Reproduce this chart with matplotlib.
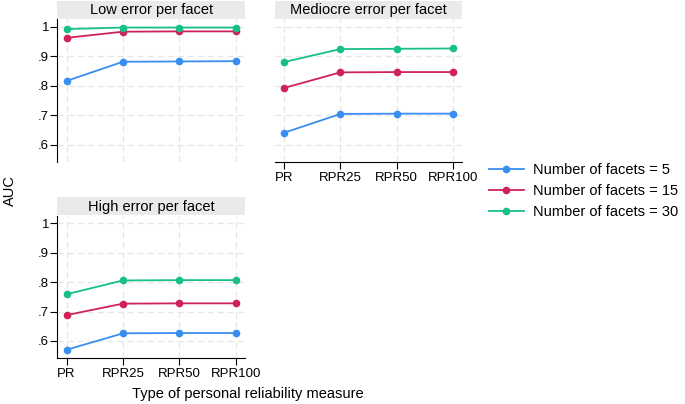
import matplotlib
matplotlib.use("Agg")
import matplotlib.pyplot as plt
import numpy as np

plt.rcParams['font.family'] = ['Liberation Sans', 'DejaVu Sans']

# Данные
measures = ["PR", "RPR25", "RPR50", "RPR100"]
facet_labels = ["Number of facets = 5", "Number of facets = 15", "Number of facets = 30"]
colors = ["#3a8ef0", "#cf2358", "#18c087"]

low_5 = [0.817, 0.882, 0.883, 0.884]
low_15 = [0.963, 0.984, 0.985, 0.985]
low_30 = [0.993, 0.998, 0.998, 0.998]

med_5 = [0.641, 0.705, 0.706, 0.706]
med_15 = [0.793, 0.846, 0.847, 0.847]
med_30 = [0.881, 0.925, 0.926, 0.927]

high_5 = [0.570, 0.626, 0.627, 0.627]
high_15 = [0.688, 0.727, 0.728, 0.728]
high_30 = [0.759, 0.806, 0.807, 0.807]

panels = [
    ("Low error per facet", [low_5, low_15, low_30]),
    ("Mediocre error per facet", [med_5, med_15, med_30]),
    ("High error per facet", [high_5, high_15, high_30]),
]

W, H = 685, 404
fig = plt.figure(figsize=(W / 100, H / 100), dpi=100)

# положения панелей в пикселях: (left, top, right, bottom)
boxes = [(57.5, 19, 245, 162), (275, 19, 462, 162), (57.5, 215.5, 245, 358)]
show_y = [True, False, True]
show_x = [False, True, True]

yticks = [0.6, 0.7, 0.8, 0.9, 1.0]
ytick_labels = [".6", ".7", ".8", ".9", "1"]
x = np.arange(len(measures))

handles = []
for k, (title, series) in enumerate(panels):
    l, t, r, b = boxes[k]
    ax = fig.add_axes([l / W, 1 - b / H, (r - l) / W, (b - t) / H])
    ax.set_xlim(-0.16, 3.16)
    ax.set_ylim(0.542, 1.027)
    ax.set_yticks(yticks)
    ax.set_xticks(x)
    ax.grid(True, color="#e6e6e6", linestyle=(0, (5, 3)), linewidth=0.9)
    ax.set_axisbelow(True)
    for s in ["top", "right"]:
        ax.spines[s].set_visible(False)
    ax.spines["left"].set_visible(show_y[k])
    ax.spines["bottom"].set_visible(show_x[k])
    for s in ["left", "bottom"]:
        ax.spines[s].set_linewidth(0.8)
    if show_y[k]:
        ax.set_yticklabels(ytick_labels, fontsize=9.5)
        ax.tick_params(axis="y", length=5, width=0.8, pad=1)
    else:
        ax.tick_params(axis="y", length=0, labelleft=False)
    if show_x[k]:
        ax.set_xticklabels(measures, fontsize=9.5)
        ax.tick_params(axis="x", length=5, width=0.8, pad=2)
    else:
        ax.tick_params(axis="x", length=0, labelbottom=False)

    for vals, c, lab in zip(series, colors, facet_labels):
        h, = ax.plot(x, vals, color=c, lw=1.3, marker="o", markersize=4.5, label=lab)
        if k == 0:
            handles.append(h)

    # заголовок панели (серая полоса)
    st = fig.add_axes([l / W, 1 - (t - 0.5) / H, (r - l) / W, 18 / H])
    st.set_facecolor("#eaeaea")
    st.set_xticks([])
    st.set_yticks([])
    for s in st.spines.values():
        s.set_visible(False)
    st.text(0.5, 0.45, title, ha="center", va="center", fontsize=10.5,
            transform=st.transAxes)

fig.text(10 / W, 1 - 191 / H, "AUC", rotation=90, ha="center", va="center", fontsize=10.5)
fig.text(248 / W, 1 - 394 / H, "Type of personal reliability measure",
         ha="center", va="center", fontsize=10.5)

fig.legend(handles=handles, loc="center left", bbox_to_anchor=(483 / W, 1 - 191 / H),
           frameon=False, fontsize=10.5, handlelength=2.4, handletextpad=0.6,
           labelspacing=0.5, borderaxespad=0)

fig.savefig("out.png", dpi=100)
